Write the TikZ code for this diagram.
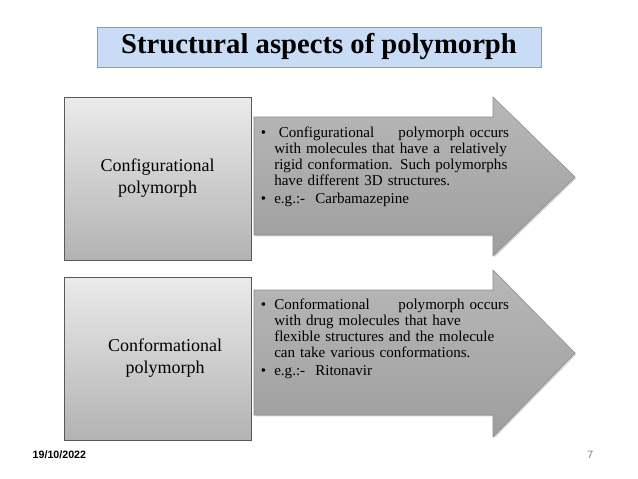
\documentclass[tikz,border=0pt]{standalone}
\usepackage{fontspec}
\setmainfont{Liberation Serif}
\newfontfamily\datefont{Liberation Sans}
\usepackage{enumitem}
\usetikzlibrary{shadows}
\definecolor{titlefill}{RGB}{200,220,245}
\definecolor{titleborder}{RGB}{120,160,210}
\tikzset{
  boxstyle/.style={draw=gray!70!black, top color=white!92!black, bottom color=white!70!black, drop shadow={opacity=0.35,shadow xshift=1pt,shadow yshift=-1pt}},
  arrowstyle/.style={draw=white!55!black, top color=white!72!black, bottom color=white!62!black, drop shadow={opacity=0.35,shadow xshift=1pt,shadow yshift=-1pt}},
  boxtext/.style={align=center, font=\fontsize{13.5}{16}\selectfont},
  arrowtext/.style={text width=188pt, inner sep=0pt, font=\fontsize{11.3}{12}\selectfont}
}
\newcommand{\bul}[1]{\begin{itemize}[leftmargin=12pt,labelsep=6pt,itemsep=2pt,topsep=0pt,parsep=0pt,partopsep=0pt]#1\end{itemize}}
\begin{document}
\begin{tikzpicture}[x=0.75pt,y=-0.75pt]
\useasboundingbox (0,0) rectangle (638,478);
\node[draw=titleborder, fill=titlefill, minimum width=444*0.75pt, minimum height=40*0.75pt, inner sep=0pt,
  drop shadow={opacity=0.3,shadow xshift=1pt,shadow yshift=-1pt},
  font=\fontsize{21.5}{24}\selectfont\bfseries] (title) at (319,47) {Structural aspects of polymorph};
% top row
\draw[boxstyle] (64,97) rectangle (251,260);
\node[boxtext] (b1) at (157.5,178) {Configurational\\polymorph};
\draw[arrowstyle] (254,117) -- (493,117) -- (493,97) -- (575,177) -- (493,256) -- (493,235) -- (254,235) -- cycle;
\node[arrowtext, anchor=north west] (a1) at (258,121) {\bul{\item[\textbullet] \hspace{0.3em}Configurational\hfill polymorph occurs with molecules that have a~ relatively rigid conformation. Such polymorphs have different 3D structures.
\item[\textbullet] e.g.:-~ Carbamazepine}};
% bottom row
\draw[boxstyle] (64,277) rectangle (251,440);
\node[boxtext] (b2) at (165,358) {Conformational\\polymorph};
\draw[arrowstyle] (254,290) -- (493,290) -- (493,270) -- (575,353) -- (493,437) -- (493,415) -- (254,415) -- cycle;
\node[arrowtext, anchor=north west] (a2) at (258,293) {\bul{\item[\textbullet] Conformational\hfill polymorph occurs with drug molecules that have flexible structures and the molecule can take various conformations.
\item[\textbullet] e.g.:-~ Ritonavir}};
\node[font=\datefont\bfseries\fontsize{8}{9}\selectfont, anchor=west] (date) at (28,455) {19/10/2022};
\node[font=\datefont\fontsize{8}{9}\selectfont, text=gray, anchor=east] (pg) at (598,455) {7};
\end{tikzpicture}
\end{document}
